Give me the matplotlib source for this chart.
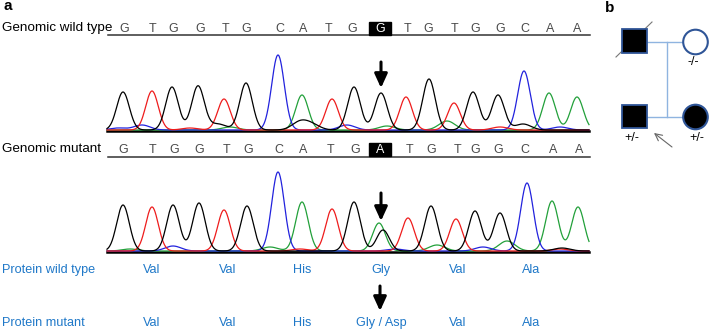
import numpy as np
import matplotlib
matplotlib.use("Agg")
import matplotlib.pyplot as plt
from matplotlib.patches import Rectangle, Circle

plt.rcParams['font.family'] = ['Liberation Sans', 'DejaVu Sans']

# ---------------- data ----------------
wt_seq = list("GTGGTGCATGGTGTGGCAA")
mut_seq = list("GTGGTGCATGATGTGGCAA")
mut_index = 10

wt_letter_x = [124, 153, 173, 200, 226, 246, 280, 303, 329, 352, 380, 408, 428, 455, 475, 500, 525, 550, 577]
mut_letter_x = [123, 153, 174, 199, 227, 248, 279, 303, 331, 355, 380, 410, 431, 458, 475, 498, 525, 553, 579]

wt_peak_x = [123, 152, 172, 198, 224, 246, 278, 302, 332, 354, 381, 406, 429, 454, 473, 498, 524, 549, 577]
wt_peak_h = [38, 39, 43, 44, 31, 47, 75, 35, 31, 43, 37, 33, 51, 27, 38, 35, 59, 37, 33]
mut_peak_x = [123, 152, 173, 199, 224, 247, 278, 302, 332, 354, 379, 408, 431, 456, 475, 500, 527, 552, 578]
mut_peak_h = [46, 44, 46, 48, 41, 45, 79, 49, 42, 49, 28, 33, 45, 32, 40, 38, 68, 50, 44]
# heterozygous secondary peak in mutant trace
het_base = ["G"]
het_x = [383]
het_h = [21]

# small background bumps (base, position, height)
wt_bg_base = ["C", "G", "C", "G", "A", "A", "G", "T", "C", "A", "G", "T", "C"]
wt_bg_x = [142, 218, 347, 300, 387, 447, 523, 500, 560, 230, 312, 190, 118]
wt_bg_h = [5, 6, 5, 8, 4, 9, 6, 3, 3, 3, 5, 2, 2]
mut_bg_base = ["C", "A", "T", "A", "A", "G", "C", "C", "A", "T"]
mut_bg_x = [173, 270, 300, 437, 507, 562, 483, 395, 130, 560]
mut_bg_h = [5, 4, 2, 6, 10, 3, 4, 2, 2, 2]

aa_x = [152, 228, 302, 381, 458, 531]
aa_wt = ["Val", "Val", "His", "Gly", "Val", "Ala"]
aa_mut = ["Val", "Val", "His", "Gly / Asp", "Val", "Ala"]

base_colors = {"G": "#000000", "T": "#ee1c1c", "C": "#2222dd", "A": "#22a03a"}

# ---------------- figure ----------------
fig = plt.figure(figsize=(7.09, 3.31), dpi=100)
ax = fig.add_axes([0, 0, 1, 1])
ax.set_xlim(0, 709)
ax.set_ylim(331, 0)
ax.axis("off")

xs = np.linspace(107, 589, 1200)
sigma = 6.3
sigma_bg = 8.0


def draw_trace(baseline, px, ph, seq, extra, bg):
    traces = {b: np.zeros_like(xs) for b in "GTCA"}
    for x, h, b in zip(px, ph, seq):
        traces[b] += h * np.exp(-(xs - x) ** 2 / (2 * sigma ** 2))
    for b, x, h in zip(*extra):
        traces[b] += h * np.exp(-(xs - x) ** 2 / (2 * sigma ** 2))
    for b, x, h in zip(*bg):
        traces[b] += h * np.exp(-(xs - x) ** 2 / (2 * sigma_bg ** 2))
    ax.plot([107, 589], [baseline + 0.6, baseline + 0.6], color="black", lw=1.8, zorder=1)
    for b in ["A", "C", "T", "G"]:
        ax.plot(xs, baseline - traces[b], color=base_colors[b], lw=0.9, zorder=2)


def draw_seq(y_letters, y_line, letters_x, seq, hl):
    ax.plot([108, 590], [y_line, y_line], color="#333333", lw=1.1)
    for i, (x, b) in enumerate(zip(letters_x, seq)):
        if i == hl:
            ax.add_patch(Rectangle((x - 11, y_letters - 7), 22, 12.5, color="black", zorder=3))
            ax.text(x, y_letters, b, ha="center", va="center", fontsize=9, color="white", zorder=4)
        else:
            ax.text(x, y_letters, b, ha="center", va="center", fontsize=9, color="#4a4a4a")


def arrow(x, y0, y1, lw=2.2):
    ax.annotate("", xy=(x, y1), xytext=(x, y0),
                arrowprops=dict(arrowstyle="-|>,head_width=0.32,head_length=0.7",
                                lw=lw, color="black", mutation_scale=12,
                                shrinkA=0, shrinkB=0))


# panel a
ax.text(3, 6.5, "a", fontsize=11, fontweight="bold", ha="left", va="center")
ax.text(2, 28, "Genomic wild type", fontsize=9.7, ha="left", va="center")
draw_seq(29, 34.5, wt_letter_x, wt_seq, mut_index)
draw_trace(130, wt_peak_x, wt_peak_h, wt_seq, ([], [], []), (wt_bg_base, wt_bg_x, wt_bg_h))
arrow(381, 62, 88)

ax.text(2, 149, "Genomic mutant", fontsize=9.7, ha="left", va="center")
draw_seq(150, 157, mut_letter_x, mut_seq, mut_index)
draw_trace(251, mut_peak_x, mut_peak_h, mut_seq, (het_base, het_x, het_h), (mut_bg_base, mut_bg_x, mut_bg_h))
arrow(381, 193, 221)

prot_color = "#1f78c8"
ax.text(2, 270, "Protein wild type", fontsize=9.1, ha="left", va="center", color=prot_color)
ax.text(2, 323, "Protein mutant", fontsize=9.1, ha="left", va="center", color=prot_color)
for x, a in zip(aa_x, aa_wt):
    ax.text(x, 270, a, fontsize=9.1, ha="center", va="center", color=prot_color)
for x, a in zip(aa_x, aa_mut):
    ax.text(x, 323, a, fontsize=9.1, ha="center", va="center", color=prot_color)
arrow(380, 286, 311)

# panel b : pedigree
ax.text(610, 8, "b", fontsize=11, fontweight="bold", ha="center", va="center")
line_c = "#8fb4e0"
edge_c = "#2f5597"
ax.plot([647, 683], [42, 42], color=line_c, lw=1.0, zorder=1)
ax.plot([667, 667], [42, 117], color=line_c, lw=1.0, zorder=1)
ax.plot([647, 683], [117, 117], color=line_c, lw=1.0, zorder=1)
ax.add_patch(Rectangle((622, 29), 25, 24, facecolor="black", edgecolor=edge_c, lw=1.3, zorder=3))
ax.plot([616, 652], [57, 22], color="#777777", lw=0.8, zorder=2)
ax.add_patch(Circle((695.5, 42), 12.3, facecolor="white", edgecolor=edge_c, lw=1.5, zorder=3))
ax.add_patch(Rectangle((622, 105), 25, 23, facecolor="black", edgecolor=edge_c, lw=1.3, zorder=3))
ax.add_patch(Circle((695.5, 117), 12.3, facecolor="black", edgecolor=edge_c, lw=1.5, zorder=3))
ax.text(693, 62, "-/-", fontsize=9, ha="center", va="center")
ax.text(632, 138, "+/-", fontsize=9, ha="center", va="center")
ax.text(697, 138, "+/-", fontsize=9, ha="center", va="center")
ax.annotate("", xy=(654, 133), xytext=(672, 147),
            arrowprops=dict(arrowstyle="->,head_width=0.25,head_length=0.5", lw=0.8,
                            color="#666666", mutation_scale=10, shrinkA=0, shrinkB=0))

fig.savefig("out.png", dpi=100)
